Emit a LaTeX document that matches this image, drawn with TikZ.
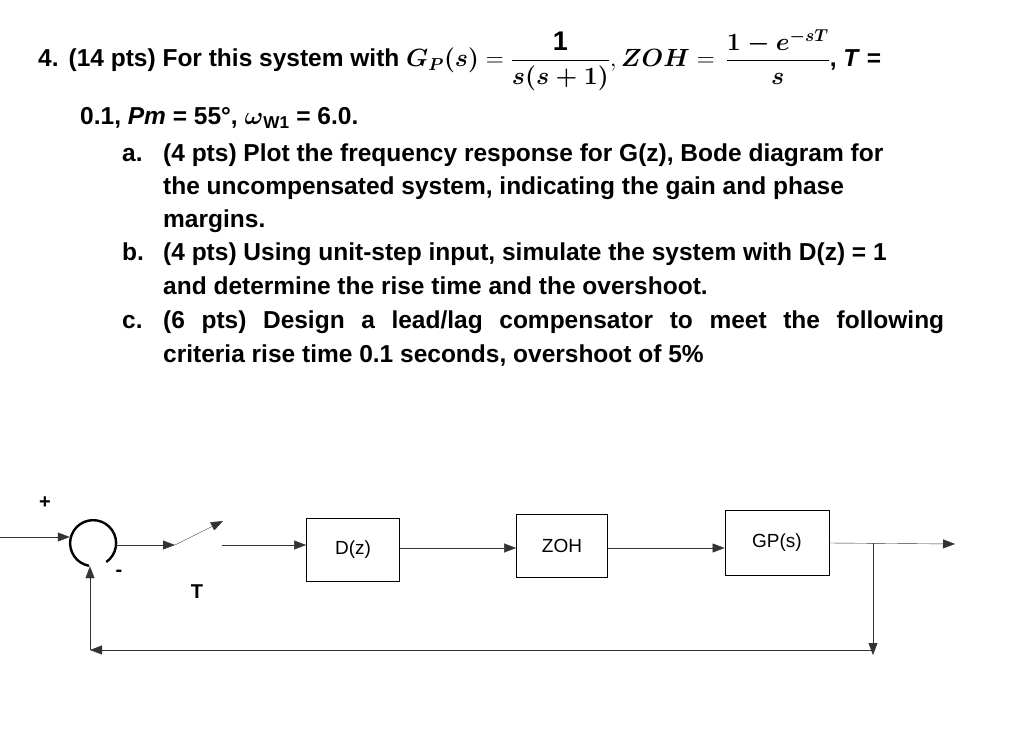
\documentclass[tikz,border=0pt]{standalone}
\usepackage{amsmath}
\usepackage{fontspec}
\setmainfont{Liberation Sans}
\usepackage{tikz}
\usetikzlibrary{arrows.meta}
\tikzset{
    txt/.style={anchor=base west,inner sep=0pt,font=\fontsize{24.5}{29}\selectfont\bfseries},
    blk/.style={draw,thick,inner sep=0pt,font=\fontsize{19}{22}\selectfont},
    sig/.style={draw=black!80,-{Triangle[length=12pt,width=9pt]}},
    sgn/.style={inner sep=0pt,font=\fontsize{20}{24}\selectfont\bfseries}
}
\begin{document}
\begin{tikzpicture}[x=1pt,y=-1pt]
\useasboundingbox (0,0) rectangle (1017,738);
% problem text
\node[txt] (t1) at (38,67) {4.\hspace{10pt}(14 pts) For this system with
  \fontsize{27}{30}\selectfont$\boldsymbol{G_P(s)}=\dfrac{\mathbf{1}}{\boldsymbol{s(s+1)}}, \boldsymbol{ZOH}=\,\dfrac{\boldsymbol{1-e^{-sT}}}{\boldsymbol{s}}$\fontsize{24.5}{29}\selectfont, \textit{T} =};
\node[txt] (t2) at (80,125) {0.1, \textit{Pm} = 55°, $\boldsymbol{\omega}$\textsubscript{W1} = 6.0.};
\node[txt] (a) at (122,162) {a.};
\node[txt] (a1) at (163,162) {(4 pts) Plot the frequency response for G(z), Bode diagram for};
\node[txt] (a2) at (163,195) {the uncompensated system, indicating the gain and phase};
\node[txt] (a3) at (163,227) {margins.};
\node[txt] (b) at (122,260) {b.};
\node[txt] (b1) at (163,260) {(4 pts) Using unit-step input, simulate the system with D(z) = 1};
\node[txt] (b2) at (163,294) {and determine the rise time and the overshoot.};
\node[txt] (c) at (122,328) {c.};
\node[txt] (c1) at (163,328) {\makebox[781pt][s]{(6 pts) Design a lead/lag compensator to meet the following}};
\node[txt] (c2) at (163,362) {criteria rise time 0.1 seconds, overshoot of 5\%};
% block diagram
\node[circle,minimum size=46pt,inner sep=0pt] (sum) at (93,543) {};
\draw[line width=2.4pt] (sum.-55) arc[start angle=-55,end angle=260,radius=23pt];
\coordinate (in) at (0,537);
\coordinate (sw1) at (175,545);
\coordinate (sw2) at (223,521);
\coordinate (sw3) at (222,545);
\node[blk,minimum width=93pt,minimum height=63pt] (D) at (353,550) {D(z)};
\node[blk,minimum width=91pt,minimum height=63pt] (Z) at (562,546) {ZOH};
\node[blk,minimum width=104pt,minimum height=65pt] (G) at (777,543) {GP(s)};
\coordinate (out) at (955,544);
\coordinate (tap) at (873,543);
\coordinate (fb1) at (873,655);
\coordinate (fb2) at (873,650);
\coordinate (fb3) at (90,650);
\path[sig] (in) -- (sum.west |- in);
\path[sig] (sum.east |- 0,545) -- (sw1);
\path[sig] (sw1) -- (sw2);
\path[sig] (sw3) -- (D.west |- sw3);
\path[sig] (D.east |- 0,548) -- (Z.west |- 0,548);
\path[sig] (Z.east |- 0,548) -- (G.west |- 0,548);
\path[sig] (G.east |- 0,543) -- (out);
\path[sig] (tap) -- (fb1);
\path[sig] (fb2) -- (fb3);
\path[sig] (fb3) -- (sum.south -| fb3);
\node[sgn] (plus) at (45,503) {+};
\node[sgn] (minus) at (119,573) {-};
\node[sgn] (T) at (197,592) {T};
\end{tikzpicture}
\end{document}
